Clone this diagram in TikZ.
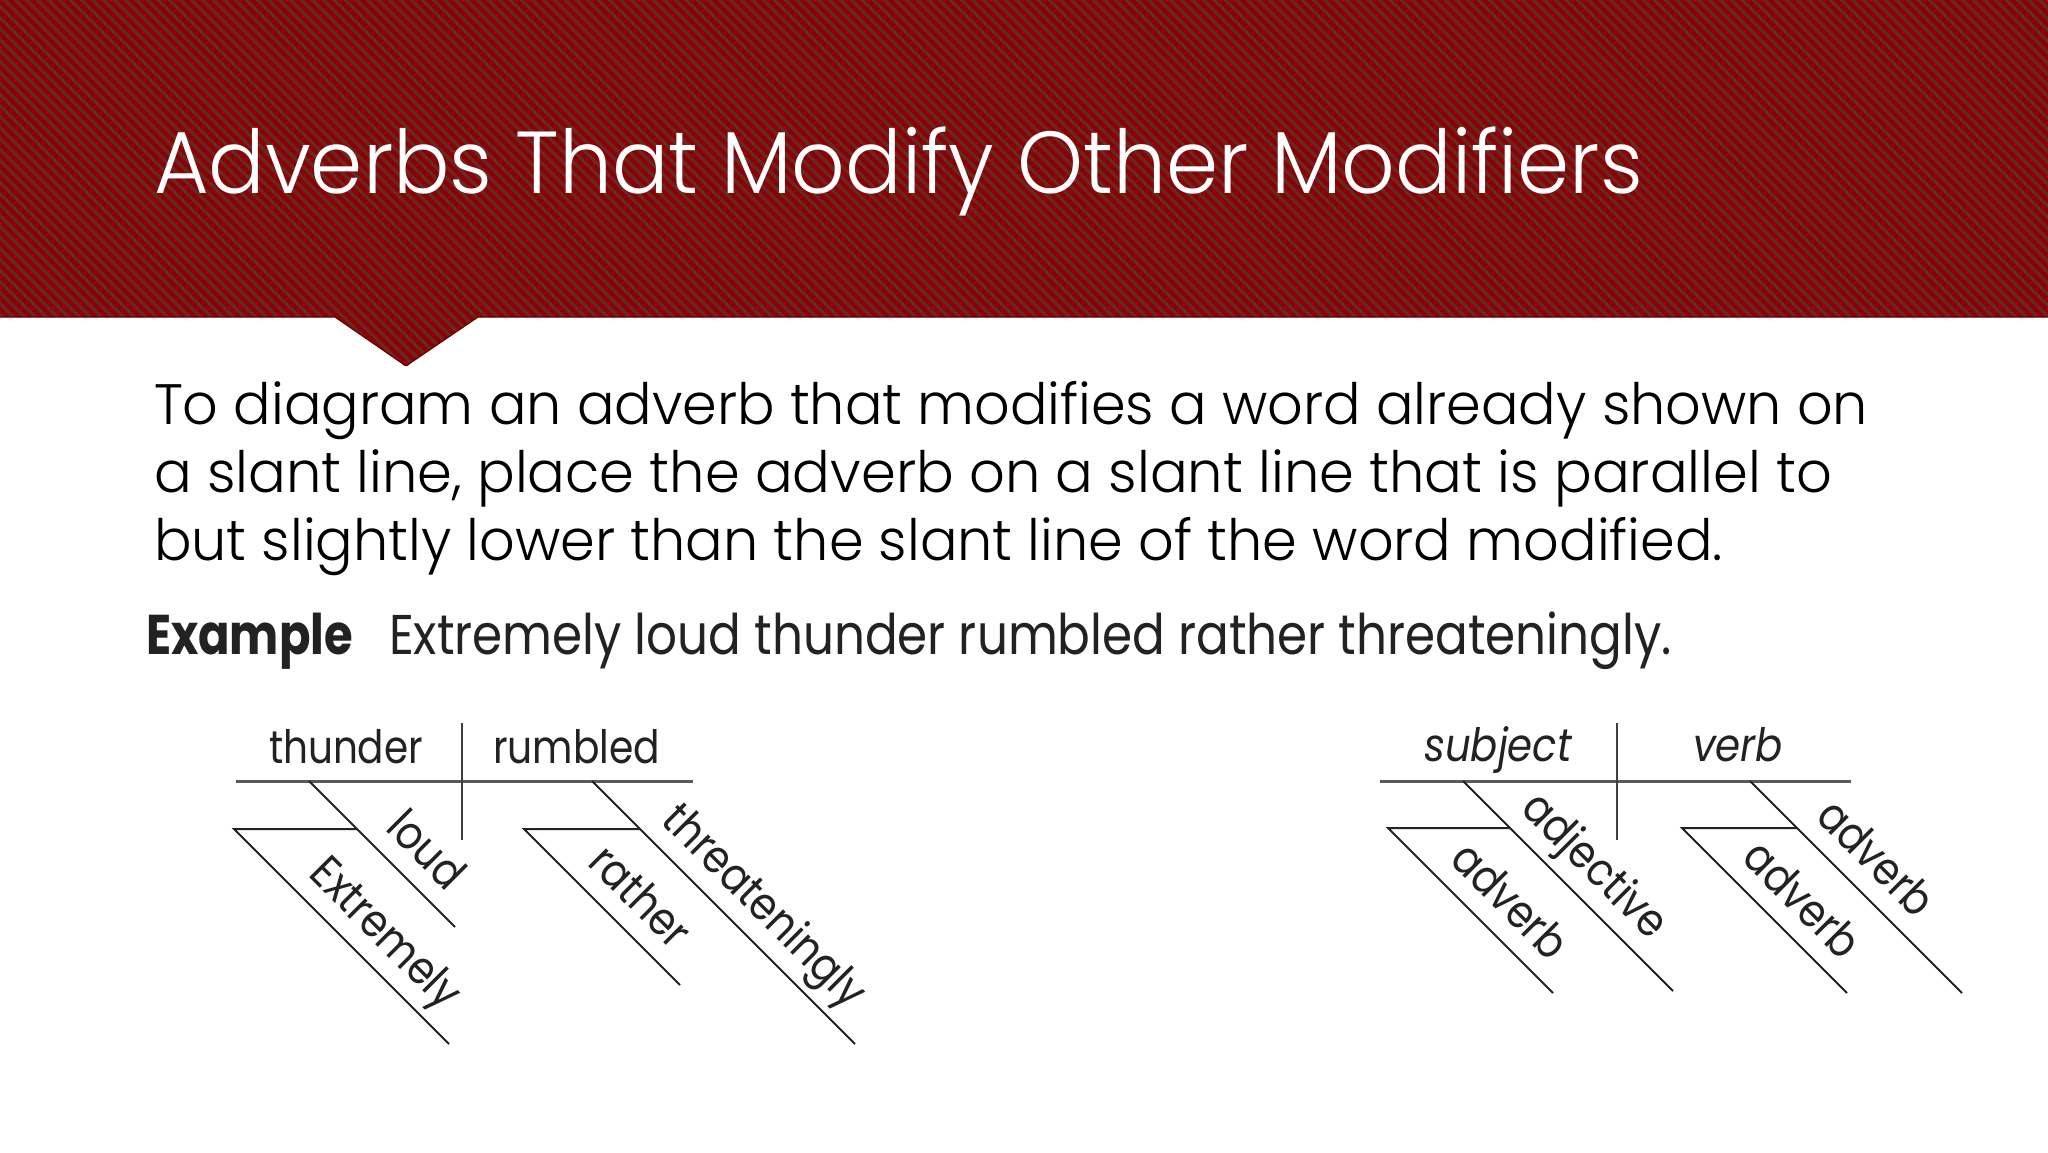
\documentclass[tikz,border=0pt]{standalone}
\usepackage{fontspec}
\usepackage{graphicx}
\newfontfamily\titlef{Poppins Light}
\newfontfamily\bodyf{Poppins Light}
\newfontfamily\exf{Poppins}
\newfontfamily\dgf[FakeStretch=0.87]{Poppins}
\definecolor{bnA}{RGB}{104,40,36}
\definecolor{bnB}{RGB}{140,0,4}
\definecolor{bnEdge}{RGB}{105,0,0}
\definecolor{ink}{RGB}{34,34,34}
\definecolor{baseln}{RGB}{90,90,90}
\newsavebox\fitbx
\newlength\fitl
\newcommand\fitx[2]{\sbox\fitbx{#2}\setlength\fitl{\wd\fitbx}\pgfmathsetmacro\fitr{#1/\fitl}\scalebox{\fitr}[1]{\usebox\fitbx}}
\begin{document}
\begin{tikzpicture}[x=0.5pt,y=-0.5pt,
  txt/.style={inner sep=0pt, outer sep=0pt, anchor=base west},
  mainln/.style={draw=baseln, line width=1.5pt},
  divln/.style={draw=baseln!70!black, line width=1.2pt},
  slantln/.style={draw=ink, line width=1pt},
  lbl/.style={txt, text=ink, font=\dgf\fontsize{23}{26}\selectfont},
  slbl/.style={lbl, rotate=-45}]
\useasboundingbox (0,0) rectangle (2048,1152);
\fill[white] (0,0) rectangle (2048,1152);
% banner
\begin{scope}
\clip (0,0) -- (2048,0) -- (2048,317) -- (478,317) -- (410.3,363) .. controls (406,366.5) .. (401.7,363) -- (335,317) -- (0,317) -- cycle;
\fill[bnA] (-10,-10) rectangle (2060,380);
\foreach \i in {-40,...,190} \draw[bnB, line width=2pt] (\i*11,-10) -- ++(390,390);
\end{scope}
\draw[bnEdge, line width=0.6pt] (0,317) -- (335,317) -- (401.7,363) .. controls (406,366.5) .. (410.3,363) -- (478,317) -- (2048,317);
% title and body
\node[txt, text=white, font=\titlef\fontsize{44}{50}\selectfont] (title) at (154,193) {\fitx{744.5pt}{Adverbs That Modify Other Modifiers}};
\node[txt, text=black, font=\bodyf\fontsize{28.5}{34}\selectfont] (b1) at (154,424) {\fitx{857pt}{To diagram an adverb that modifies a word already shown on}};
\node[txt, text=black, font=\bodyf\fontsize{28.5}{34}\selectfont] (b2) at (154,492) {\fitx{839pt}{a slant line, place the adverb on a slant line that is parallel to}};
\node[txt, text=black, font=\bodyf\fontsize{28.5}{34}\selectfont] (b3) at (154,560) {\fitx{784.5pt}{but slightly lower than the slant line of the word modified.}};
\node[txt, text=ink, font=\exf\bfseries\fontsize{28}{32}\selectfont] (exlbl) at (146,654) {\fitx{103.5pt}{Example}};
\node[txt, text=ink, font=\exf\fontsize{28}{32}\selectfont] (exsent) at (389,654) {\fitx{641.5pt}{Extremely loud thunder rumbled rather threateningly.}};
% left diagram
\coordinate (L0) at (236,781); \coordinate (L1) at (693,781);
\coordinate (Lv0) at (462,723); \coordinate (Lv1) at (462,840);
\coordinate (La) at (309,781); \coordinate (Lae) at (455,927);
\coordinate (Lb) at (234,829); \coordinate (Lbh) at (357,829); \coordinate (Lbe) at (449,1044);
\coordinate (Lc) at (592,781); \coordinate (Lce) at (855,1044);
\coordinate (Ld) at (524,829); \coordinate (Ldh) at (640,829); \coordinate (Lde) at (680,985);
\draw[mainln] (L0) -- (L1);
\draw[divln] (Lv0) -- (Lv1);
\draw[slantln] (La) -- (Lae);
\draw[slantln] (Lbh) -- (Lb) -- (Lbe);
\draw[slantln] (Lc) -- (Lce);
\draw[slantln] (Ldh) -- (Ld) -- (Lde);
\node[lbl] (thunder) at (269,763) {\fitx{77pt}{thunder}};
\node[lbl] (rumbled) at (493,763) {\fitx{83.5pt}{rumbled}};
\node[slbl] (loud) at (384.6,829.8) {loud};
\node[slbl] (extremely) at (307.5,875.7) {Extremely};
\node[slbl] (rather) at (586.2,864.4) {rather};
\node[slbl] (threat) at (659.8,822) {threateningly};
% right diagram
\coordinate (R0) at (1380,781); \coordinate (R1) at (1851,781);
\coordinate (Rv0) at (1617,723); \coordinate (Rv1) at (1617,840);
\coordinate (Ra) at (1463,781); \coordinate (Rae) at (1673,991);
\coordinate (Rb) at (1388,828); \coordinate (Rbh) at (1510,828); \coordinate (Rbe) at (1553,993);
\coordinate (Rc) at (1750,781); \coordinate (Rce) at (1962,993);
\coordinate (Rd) at (1682,828); \coordinate (Rdh) at (1797,828); \coordinate (Rde) at (1847,993);
\draw[mainln] (R0) -- (R1);
\draw[divln] (Rv0) -- (Rv1);
\draw[slantln] (Ra) -- (Rae);
\draw[slantln] (Rbh) -- (Rb) -- (Rbe);
\draw[slantln] (Rc) -- (Rce);
\draw[slantln] (Rdh) -- (Rd) -- (Rde);
\node[lbl, font=\dgf\itshape\fontsize{23}{26}\selectfont] (subject) at (1424,761) {\fitx{74pt}{subject}};
\node[lbl, font=\dgf\itshape\fontsize{23}{26}\selectfont] (verb) at (1693,761) {\fitx{45pt}{verb}};
\node[slbl] (adjective) at (1519.5,810.7) {adjective};
\node[slbl] (adverbL) at (1448.1,861.3) {adverb};
\node[slbl] (adverbUR) at (1814.3,818.5) {adverb};
\node[slbl] (adverbLR) at (1740.7,859.9) {adverb};
\end{tikzpicture}
\end{document}
